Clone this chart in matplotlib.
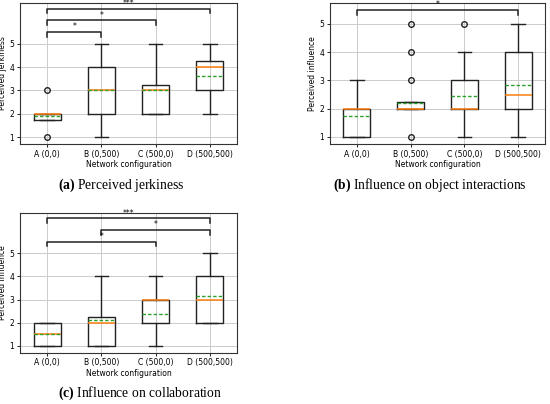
import matplotlib
matplotlib.use("Agg")
import matplotlib.pyplot as plt

plt.rcParams["mathtext.fontset"] = "custom"
plt.rcParams["mathtext.rm"] = "Liberation Serif"
plt.rcParams["mathtext.bf"] = "Liberation Serif:bold"

categories = ["A (0,0)", "B (0,500)", "C (500,0)", "D (500,500)"]

# Panel (a) Perceived jerkiness
a_q1 = [1.75, 2, 2, 3]
a_med = [2, 3, 3, 4]
a_q3 = [2, 4, 3.25, 4.25]
a_lo = [1.75, 1, 2, 2]
a_hi = [2, 5, 5, 5]
a_mean = [1.9, 3.0, 3.0, 3.6]
a_fliers = [[1, 3], [], [], []]
a_sig = [(1, 2, 5.5, "*"), (1, 3, 6.0, "*"), (1, 4, 6.5, "***")]

# Panel (b) Influence on object interactions
b_q1 = [1, 2, 2, 2]
b_med = [2, 2, 2, 2.5]
b_q3 = [2, 2.25, 3, 4]
b_lo = [1, 2, 1, 1]
b_hi = [3, 2.25, 4, 5]
b_mean = [1.75, 2.2, 2.45, 2.85]
b_fliers = [[], [1, 3, 4, 5], [5], []]
b_sig = [(1, 4, 5.5, "*")]

# Panel (c) Influence on collaboration
c_q1 = [1, 1, 2, 2]
c_med = [1.5, 2, 3, 3]
c_q3 = [2, 2.25, 3, 4]
c_lo = [1, 1, 1, 2]
c_hi = [2, 4, 4, 5]
c_mean = [1.5, 2.1, 2.4, 3.15]
c_fliers = [[], [], [], []]
c_sig = [(1, 3, 5.5, "*"), (2, 4, 6.0, "*"), (1, 4, 6.5, "***")]

fig = plt.figure(figsize=(5.5, 4.04), dpi=100)

FS = 5.5

def panel(rect, q1, med, q3, lo, hi, mean, fliers, sig, ylabel, ylim):
    ax = fig.add_axes(rect)
    stats = []
    for i in range(len(categories)):
        stats.append(dict(q1=q1[i], med=med[i], q3=q3[i], whislo=lo[i], whishi=hi[i],
                          mean=mean[i], fliers=fliers[i], label=categories[i]))
    ax.bxp(stats, showmeans=True, meanline=True, widths=0.5,
           boxprops=dict(linewidth=1.0, color="#222222"),
           whiskerprops=dict(linewidth=1.0, color="#222222"),
           capprops=dict(linewidth=1.0, color="#222222"),
           medianprops=dict(color="#ff7f0e", linewidth=1.1),
           meanprops=dict(color="#2ca02c", linestyle=(0, (2.5, 1.5)), linewidth=1.0),
           flierprops=dict(marker="o", markersize=4, markerfacecolor="none",
                           markeredgecolor="#222222", markeredgewidth=1.0))
    ax.set_ylim(*ylim)
    ax.set_xlim(0.5, 4.5)
    ax.set_yticks([1, 2, 3, 4, 5])
    ax.grid(True, color="#cccccc", linewidth=0.7)
    ax.set_axisbelow(True)
    ax.tick_params(labelsize=FS, length=2.5, width=0.6, pad=1.5)
    ax.set_xlabel("Network configuration", fontsize=FS, labelpad=1)
    ax.set_ylabel(ylabel, fontsize=FS, labelpad=1.5)
    for sp in ax.spines.values():
        sp.set_linewidth(0.8)
        sp.set_color("#333333")
    for (x1, x2, y, s) in sig:
        h = 0.2
        ax.plot([x1, x1, x2, x2], [y - h, y, y, y - h], color="#222222", linewidth=1.1)
        ax.text((x1 + x2) / 2, y + 0.03, s, ha="center", va="bottom", fontsize=FS)
    return ax

panel([20/550, 1 - 144/404, 217/550, 141/404], a_q1, a_med, a_q3, a_lo, a_hi,
      a_mean, a_fliers, a_sig, "Perceived jerkiness", (0.7, 6.75))
panel([330/550, 1 - 144/404, 215/550, 141/404], b_q1, b_med, b_q3, b_lo, b_hi,
      b_mean, b_fliers, b_sig, "Perceived influence", (0.75, 5.74))
panel([20/550, 1 - 352.7/404, 217/550, 140/404], c_q1, c_med, c_q3, c_lo, c_hi,
      c_mean, c_fliers, c_sig, "Perceived influence", (0.71, 6.75))

cap_font = dict(fontsize=9.8, family="Liberation Serif")

def caption(x, y, letter, text):
    fig.text(x / 550, 1 - y / 404, r"$\mathbf{(" + letter + r")}$ " + text,
             ha="left", va="center", **cap_font)

caption(58, 185, "a", "Perceived jerkiness")
caption(333, 185, "b", "Influence on object interactions")
caption(58, 393, "c", "Influence on collaboration")

fig.savefig("out.png", dpi=100)
